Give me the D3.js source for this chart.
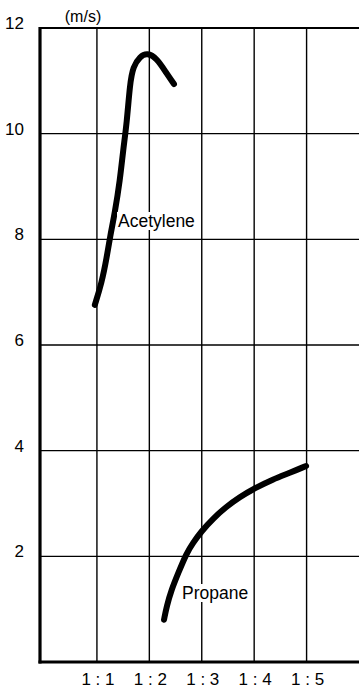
<!DOCTYPE html>
<html>
<head>
<meta charset="utf-8">
<script src="https://cdn.jsdelivr.net/npm/d3@7"></script>
<style>
  html, body { margin: 0; padding: 0; background: #fff; }
  svg { display: block; }
  text { font-family: "Liberation Sans", Arial, Helvetica, sans-serif; fill: #000; }
</style>
</head>
<body>
<svg id="chart" width="359" height="688"></svg>
<script>
// Mixing ratio categories along the x axis (positions 1..5)
const ratioLabels = ["1 : 1", "1 : 2", "1 : 3", "1 : 4", "1 : 5"];
const ratioPositions = [1, 2, 3, 4, 5];

// Velocity axis ticks (m/s)
const velocityTicks = [2, 4, 6, 8, 10, 12];

// Acetylene burning velocity curve: [ratio position, m/s]
const acetylene = [
  [0.96, 6.76], [1.09, 7.17], [1.19, 7.67], [1.25, 8.05], [1.34, 8.49],
  [1.44, 9.12], [1.50, 9.69], [1.57, 10.2], [1.63, 10.95], [1.69, 11.27],
  [1.82, 11.46], [1.96, 11.53], [2.14, 11.43], [2.33, 11.14], [2.47, 10.94]
];

// Propane burning velocity curve: [ratio position, m/s]
const propane = [
  [2.28, 0.8], [2.33, 1.05], [2.42, 1.36], [2.55, 1.68], [2.71, 2.06],
  [2.83, 2.25], [2.99, 2.47], [3.22, 2.72], [3.47, 2.94], [3.72, 3.12],
  [4.01, 3.29], [4.36, 3.46], [4.68, 3.58], [4.99, 3.71]
];

const svg = d3.select("#chart");
const plotLeft = 40, plotRight = 359, plotTop = 28, plotBottom = 662;

const x = d3.scaleLinear().domain([-0.086, 6]).range([plotLeft, plotRight]);
const y = d3.scaleLinear().domain([0, 12]).range([plotBottom, plotTop]);

// Horizontal grid lines
svg.append("g").selectAll("line").data(velocityTicks).join("line")
  .attr("x1", plotLeft).attr("x2", plotRight)
  .attr("y1", d => y(d)).attr("y2", d => y(d))
  .attr("stroke", "#000")
  .attr("stroke-width", d => d === 12 ? 2 : 1.4);

// Vertical grid lines
svg.append("g").selectAll("line").data(ratioPositions).join("line")
  .attr("x1", d => x(d)).attr("x2", d => x(d))
  .attr("y1", plotTop).attr("y2", plotBottom)
  .attr("stroke", "#000")
  .attr("stroke-width", 1.4);

// Axes frame (left and bottom)
svg.append("line")
  .attr("x1", plotLeft).attr("x2", plotLeft).attr("y1", plotTop - 1).attr("y2", plotBottom + 1.5)
  .attr("stroke", "#000").attr("stroke-width", 3.2);
svg.append("line")
  .attr("x1", plotLeft - 1.5).attr("x2", plotRight).attr("y1", plotBottom).attr("y2", plotBottom)
  .attr("stroke", "#000").attr("stroke-width", 3.2);

// Y tick labels
svg.append("g").selectAll("text").data(velocityTicks).join("text")
  .attr("x", 24)
  .attr("y", d => y(d) + 1)
  .attr("text-anchor", "end")
  .attr("font-size", 17)
  .text(d => d);

// Unit label
svg.append("text")
  .attr("x", 83).attr("y", 22)
  .attr("text-anchor", "middle")
  .attr("font-size", 16)
  .text("(m/s)");

// X tick labels
svg.append("g").selectAll("text").data(ratioPositions).join("text")
  .attr("x", d => x(d) + 1)
  .attr("y", 685)
  .attr("text-anchor", "middle")
  .attr("font-size", 17)
  .text((d, i) => ratioLabels[i]);

// Curves, smoothed through the read-off points
const line = d3.line()
  .x(d => x(d[0]))
  .y(d => y(d[1]))
  .curve(d3.curveBasis);

[acetylene, propane].forEach(series => {
  svg.append("path")
    .datum(series)
    .attr("d", line)
    .attr("fill", "none")
    .attr("stroke", "#000")
    .attr("stroke-width", 6)
    .attr("stroke-linecap", "round")
    .attr("stroke-linejoin", "round");
});

// Curve labels with a white backing so grid lines break behind them
function curveLabel(text, xPos, yBase) {
  const g = svg.append("g");
  const bg = g.append("rect").attr("fill", "#fff");
  const t = g.append("text")
    .attr("x", xPos).attr("y", yBase)
    .attr("font-size", 17.5)
    .text(text);
  const b = t.node().getBBox();
  bg.attr("x", b.x - 1).attr("y", b.y + 1)
    .attr("width", b.width + 2).attr("height", b.height - 2);
}
curveLabel("Acetylene", 118, 227);
curveLabel("Propane", 182, 599);
</script>
</body>
</html>
